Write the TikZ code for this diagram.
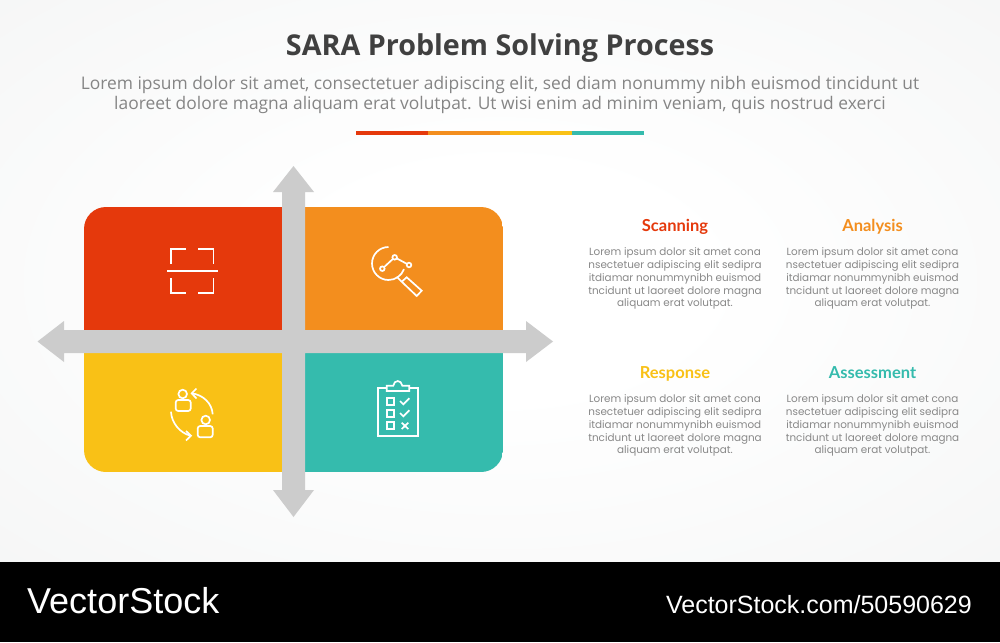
\documentclass[tikz,border=0pt]{standalone}
\usepackage{fontspec}
\setmainfont{Open Sans}
\newfontfamily\headf{Lato}
\newfontfamily\bodyf{Poppins}
\newfontfamily\markf{Liberation Sans}
\usetikzlibrary{arrows.meta}
\definecolor{cred}{HTML}{E5390C}
\definecolor{corange}{HTML}{F38E1E}
\definecolor{cyellow}{HTML}{F9C116}
\definecolor{cteal}{HTML}{35BBAD}
\definecolor{carrow}{HTML}{CCCCCC}
\definecolor{ctitle}{HTML}{404040}
\definecolor{csub}{HTML}{858585}
\definecolor{cbody}{HTML}{888888}
\definecolor{cbgmid}{HTML}{F1F2F2}
\definecolor{cbgout}{HTML}{EEEFEF}
\pgfdeclareradialshading{bgshade}{\pgfpoint{0bp}{0bp}}{color(0bp)=(white); color(10bp)=(white); color(50bp)=(cbgmid); color(70bp)=(cbgout); color(100bp)=(cbgout)}
\tikzset{
  icon/.style={draw=white,line width=1.7pt,fill=none,line join=miter},
  headtext/.style={font=\headf\bfseries\fontsize{16.5}{19}\selectfont,anchor=base},
  bodytext/.style={font=\bodyf\fontsize{10.4}{12.75}\selectfont,text=cbody,align=center,anchor=center,inner sep=0pt},
}
\newcommand{\bodylorem}{Lorem ipsum dolor sit amet cona\\nsectetuer adipiscing elit sedipra\\itdiamar nonummynibh euismod\\tncidunt ut laoreet dolore magna\\aliquam erat volutpat.}
\begin{document}
\begin{tikzpicture}[x=1pt,y=-1pt]
\useasboundingbox (0,0) rectangle (1000,642);
% background
\shade[shading=bgshade] (0,0) rectangle (1000,562);
\fill[black] (0,562) rectangle (1000,642);
% title
\node[font=\bfseries\fontsize{28.7}{34}\selectfont,text=ctitle,anchor=center] (title) at (500,48) {SARA Problem Solving Process};
\node[font=\fontsize{17.4}{20}\selectfont,text=csub,align=center,anchor=center,inner sep=0pt] (subtitle) at (500,95) {Lorem ipsum dolor sit amet, consectetuer adipiscing elit, sed diam nonummy nibh euismod tincidunt ut\\laoreet dolore magna aliquam erat volutpat. Ut wisi enim ad minim veniam, quis nostrud exerci};
% colour bar
\fill[cred] (356,131) rectangle (428,135);
\fill[corange] (428,131) rectangle (500,135);
\fill[cyellow] (500,131) rectangle (572,135);
\fill[cteal] (572,131) rectangle (644,135);
% quadrants
\begin{scope}
\clip[rounded corners=22pt] (84,207) rectangle (503,472);
\fill[cred] (84,207) rectangle (293.5,341.5);
\fill[corange] (293.5,207) rectangle (503,341.5);
\fill[cyellow] (84,341.5) rectangle (293.5,472);
\fill[cteal] (293.5,341.5) rectangle (503,472);
\end{scope}
% cross arrows
\fill[carrow] (293.5,166) -- (314,192) -- (305,192) -- (305,330) -- (526,330) -- (526,321) -- (553,341.5) -- (526,362) -- (526,353) -- (305,353) -- (305,490) -- (314,490) -- (293.5,517) -- (273,490) -- (282,490) -- (282,353) -- (64,353) -- (64,362) -- (37.5,341.5) -- (64,321) -- (64,330) -- (282,330) -- (282,192) -- (273,192) -- cycle;
% scanning icon
\draw[icon] (186,249) -- (170.7,249) -- (170.7,264);
\draw[icon] (198,249) -- (213.5,249) -- (213.5,264);
\draw[icon] (170.7,278) -- (170.7,293) -- (186,293);
\draw[icon] (213.5,278) -- (213.5,293) -- (198,293);
\draw[icon] (167,271) -- (217.5,271);
% analysis icon
\draw[icon] (388.5,247) arc[start angle=-90,end angle=-340,radius=16.5];
\draw[icon] (382.3,268.7) -- (394.7,257.3) -- (409,265);
\draw[icon,fill=corange] (382.3,268.7) circle[radius=2.3];
\draw[icon,fill=corange] (394.7,257.3) circle[radius=2.3];
\draw[icon,fill=corange] (409,265) circle[radius=2.3];
\draw[icon] (396.7,276.7) -- (401.7,281.7);
\draw[icon] (401.7,281.7) -- (406.7,277.3) -- (421.7,290.7) -- (416.7,296) -- cycle;
% response icon
\draw[icon] (182.7,394) circle[radius=4.3];
\draw[icon,rounded corners=2.5pt] (175.7,411) -- (175.7,400) -- (190.7,400) -- (190.7,411) -- cycle;
\draw[icon] (205.7,420) circle[radius=4.3];
\draw[icon,rounded corners=2.5pt] (197.7,437.3) -- (197.7,426) -- (212.7,426) -- (212.7,437.3) -- cycle;
\draw[icon] (212.7,414.3) .. controls (212,403) and (203,395) .. (192,393.3);
\draw[icon] (196.5,388.5) -- (191.7,393.3) -- (196.5,398.5);
\draw[icon] (171,411.7) .. controls (171.5,423) and (180,433) .. (190.5,435.7);
\draw[icon] (186,431) -- (191,435.7) -- (186,440.5);
% assessment icon
\draw[icon] (386.7,387.7) -- (378.3,387.7) -- (378.3,436) -- (417.7,436) -- (417.7,387.7) -- (409.3,387.7);
\draw[icon] (386.7,391) -- (386.7,385.7) -- (393.3,385.7) .. controls (394,379.5) and (401.5,379.5) .. (402.3,385.7) -- (409.3,385.7) -- (409.3,391) -- cycle;
\draw[icon] (386.7,398.3) rectangle (394.3,405);
\draw[icon] (386.7,410.3) rectangle (394.3,417);
\draw[icon] (386.7,422.3) rectangle (394.3,429);
\draw[icon] (400,401) -- (403.3,404.3) -- (409.3,398.3);
\draw[icon] (400,413) -- (403.3,416.3) -- (409.3,410.3);
\draw[icon] (401.7,422.7) -- (408.3,429);
\draw[icon] (408.3,422.7) -- (401.7,429);
% text blocks
\node[headtext,text=cred] (h1) at (675,231.5) {Scanning};
\node[bodytext] (b1) at (675,278.7) {\bodylorem};
\node[headtext,text=corange] (h2) at (872.5,231.5) {Analysis};
\node[bodytext] (b2) at (872.5,278.7) {\bodylorem};
\node[headtext,text=cyellow] (h3) at (675,378.5) {Response};
\node[bodytext] (b3) at (675,425.7) {\bodylorem};
\node[headtext,text=cteal] (h4) at (872.5,378.5) {Assessment};
\node[bodytext] (b4) at (872.5,425.7) {\bodylorem};
% footer
\node[font=\markf\fontsize{36}{40}\selectfont,text=white,anchor=base west,inner sep=0pt] (brand) at (27,613) {VectorStock};
\node[font=\markf\fontsize{25}{28}\selectfont,text=white,anchor=base east,inner sep=0pt] (url) at (972,613) {VectorStock.com/50590629};
\end{tikzpicture}
\end{document}
